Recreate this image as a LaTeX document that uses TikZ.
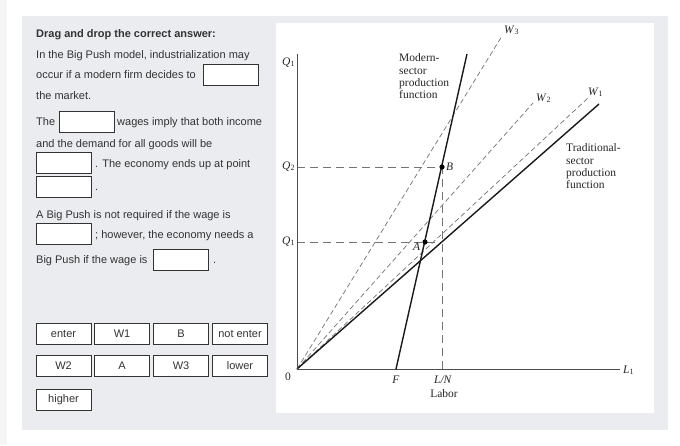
\documentclass[tikz,border=0pt]{standalone}
\usepackage{fontspec}
\setmainfont{Liberation Sans}
\newfontfamily\chartfont{Liberation Serif}
\usetikzlibrary{calc}
\definecolor{panelgray}{HTML}{EBECF0}
\definecolor{stripgray}{HTML}{F5F5F5}
\definecolor{ink}{HTML}{333333}
\newcommand{\var}[2]{\textit{#1}\textsubscript{#2}}
\tikzstyle{textline} = [anchor=base west, inner sep=0pt, text=ink, font=\fontsize{11}{13}\selectfont]
\tikzstyle{blank} = [draw=black!80, fill=white, line width=0.9pt, minimum width=55pt, minimum height=21pt, inner sep=0pt]
\tikzstyle{choice} = [blank, text=ink, font=\fontsize{11}{13}\selectfont]
\tikzstyle{axisline} = [draw, black!70, line width=1pt]
\tikzstyle{prodline} = [draw, black!90, line width=1.4pt]
\tikzstyle{wageline} = [draw, black!55, line width=0.7pt, dash pattern=on 5pt off 3pt]
\tikzstyle{guide} = [draw, black!55, line width=0.8pt, dash pattern=on 8pt off 5pt]
\tikzstyle{lbl} = [inner sep=0pt, text=black!85, font=\chartfont\fontsize{11.5}{12.4}\selectfont]
\begin{document}
\begin{tikzpicture}[x=1pt, y=-1pt]
  \useasboundingbox (0,0) rectangle (680,445);
  \fill[white] (0,0) rectangle (680,445);
  \fill[stripgray] (0,0) rectangle (7,445);
  \fill[panelgray] (22,16) rectangle (668,430);

  % question text
  \node[textline, font=\bfseries\fontsize{11}{13}\selectfont] (title) at (36,37) {Drag and drop the correct answer:};
  \node[textline] (q1a) at (36,58) {In the Big Push model, industrialization may};
  \node[textline] (q1b) at (36,78) {occur if a modern firm decides to};
  \node[blank] (ans1) at (231,74.5) {};
  \node[textline] (q1c) at (36,99) {the market.};
  \node[textline] (q2a) at (36,125) {The};
  \node[blank] (ans2) at (86.5,121.5) {};
  \node[textline] (q2b) at (117,125) {wages imply that both income};
  \node[textline] (q2c) at (36,147) {and the demand for all goods will be};
  \node[blank] (ans3) at (63.5,163) {};
  \node[textline] (q2d) at (95,167) {. The economy ends up at point};
  \node[blank] (ans4) at (63.5,187) {};
  \node[textline] (q2e) at (95,190) {.};
  \node[textline] (q3a) at (36,218) {A Big Push is not required if the wage is};
  \node[blank] (ans5) at (63.5,234) {};
  \node[textline] (q3b) at (95,238) {; however, the economy needs a};
  \node[textline] (q3c) at (36,263) {Big Push if the wage is};
  \node[blank] (ans6) at (181,259.5) {};
  \node[textline] (q3d) at (213,263) {.};

  % answer choices
  \foreach \pos/\name/\txt in {{(63.5,333.5)/enter/enter},{(122,333.5)/wone/W1},{(181,333.5)/pointb/B},{(240,333.5)/noenter/not enter},
                               {(63.5,366)/wtwo/W2},{(122,366)/pointa/A},{(181,366)/wthree/W3},{(240,366)/lower/lower},
                               {(63.5,399.5)/higher/higher}}
    \node[choice] (\name) at \pos {\txt};

  % graph
  \fill[white] (276,23) rectangle (654,413);
  \coordinate (O) at (297,369);
  \coordinate (Ytop) at (297,54);
  \coordinate (Xend) at (620,369);
  \coordinate (F) at (396,369);
  \coordinate (Mtop) at (467,54);
  \coordinate (Ttop) at (599,104);
  \coordinate (Wone) at (588,98);
  \coordinate (Wtwo) at (533,103);
  \coordinate (Wthree) at (502,36);
  \coordinate (LN) at (442,369);
  \coordinate (B) at (442,167);
  \coordinate (A) at (425,242);
  \coordinate (Qtwo) at (297,167);
  \coordinate (Qone) at (297,242);
  \coordinate (T) at (442,242);

  \foreach \dest in {Wone,Wtwo,Wthree}
    \path[wageline] (O) -- (\dest);
  \path[guide] (Qtwo) -- (B);
  \path[guide] (Qone) -- (T);
  \path[guide] (LN) -- (B);
  \path[prodline] (O) -- (Ttop);
  \path[prodline] (F) -- (Mtop);
  \path[axisline] (Ytop) -- (O) -- (Xend);
  \fill[black] (A) circle (2.6pt) (B) circle (2.6pt);

  \node[lbl, anchor=base west] (ylab) at (282,65) {\var{Q}{1}};
  \node[lbl, anchor=base west] (qtwolab) at (282,169) {\var{Q}{2}};
  \node[lbl, anchor=base west] (qonelab) at (282,244) {\var{Q}{1}};
  \node[lbl, anchor=base] (zero) at (288,380) {0};
  \node[lbl, anchor=base] (flab) at (396,383) {\textit{F}};
  \node[lbl, anchor=base] (lnlab) at (443,383) {\textit{L/N}};
  \node[lbl, anchor=base] (labor) at (444,397) {Labor};
  \node[lbl, anchor=base west] (xlab) at (623,373) {\var{L}{1}};
  \node[lbl, anchor=base west] (wthreelab) at (504,33) {\var{W}{3}};
  \node[lbl, anchor=base west] (wtwolab) at (536,101) {\var{W}{2}};
  \node[lbl, anchor=base west] (wonelab) at (588,95) {\var{W}{1}};
  \node[lbl, anchor=base west] (blab) at (446,170) {\textit{B}};
  \node[lbl, anchor=base west] (alab) at (413,250) {\textit{A}};
  \node[lbl, anchor=north west, align=left] (modern) at (399,53.5) {Modern-\\sector\\production\\function};
  \node[lbl, anchor=north west, align=left] (trad) at (566,143.5) {Traditional-\\sector\\production\\function};
\end{tikzpicture}
\end{document}
